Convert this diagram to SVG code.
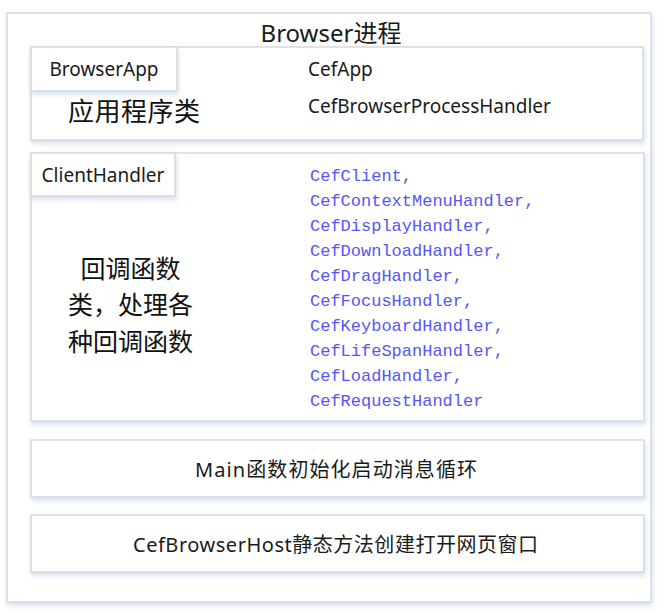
<svg xmlns="http://www.w3.org/2000/svg" width="663" height="612" viewBox="0 0 663 612">
  <defs>
    <filter id="sh" x="-5%" y="-5%" width="110%" height="120%">
      <feDropShadow dx="1" dy="3" stdDeviation="2.5" flood-color="#9fbbe0" flood-opacity="0.45"/>
    </filter>
    <style>
      .box { fill: #ffffff; stroke: #d9d9d9; stroke-width: 1.5; filter: url(#sh); }
      .t { font-family: "Noto Sans", "Noto Sans CJK SC", sans-serif; fill: #1a1a1a; }
      .cjk { font-family: "Noto Sans CJK SC", "Noto Sans", sans-serif; fill: #111111; }
      .code { font-family: "Liberation Mono", "DejaVu Sans Mono", monospace; font-size: 17px; fill: #5656f8; }
    </style>
  </defs>
  <rect width="663" height="612" fill="#ffffff"/>

  <g id="browser-process">
    <rect class="box" x="7" y="13" width="644" height="589"/>
    <text class="t" x="331" y="42" font-size="24" text-anchor="middle">Browser进程</text>
  </g>

  <g id="app-class">
    <rect class="box" x="31" y="47" width="612" height="93"/>
    <text class="cjk" x="68" y="121" font-size="26" textLength="132">应用程序类</text>
    <text class="t" x="308" y="76" font-size="19">CefApp</text>
    <text class="t" x="308" y="113" font-size="19">CefBrowserProcessHandler</text>
  </g>
  <g id="browser-app">
    <rect class="box" x="31" y="47" width="146" height="44"/>
    <text class="t" x="104" y="76" font-size="19" text-anchor="middle">BrowserApp</text>
  </g>

  <g id="callback-class">
    <rect class="box" x="31" y="153" width="613" height="268"/>
    <text class="cjk" font-size="25" text-anchor="middle"><tspan x="130.5" y="277.5">回调函数</tspan><tspan x="130.5" y="314">类，处理各</tspan><tspan x="130.5" y="350.5">种回调函数</tspan></text>
    <text class="code" x="310" y="181">CefClient,</text>
    <text class="code" x="310" y="206">CefContextMenuHandler,</text>
    <text class="code" x="310" y="231">CefDisplayHandler,</text>
    <text class="code" x="310" y="256">CefDownloadHandler,</text>
    <text class="code" x="310" y="281">CefDragHandler,</text>
    <text class="code" x="310" y="306">CefFocusHandler,</text>
    <text class="code" x="310" y="331">CefKeyboardHandler,</text>
    <text class="code" x="310" y="356">CefLifeSpanHandler,</text>
    <text class="code" x="310" y="381">CefLoadHandler,</text>
    <text class="code" x="310" y="406">CefRequestHandler</text>
  </g>
  <g id="client-handler">
    <rect class="box" x="31" y="153" width="144" height="43"/>
    <text class="t" x="103" y="182" font-size="19" text-anchor="middle">ClientHandler</text>
  </g>

  <g id="main-loop">
    <rect class="box" x="31" y="440" width="613" height="57"/>
    <text class="t" x="195" y="477" font-size="20" textLength="282">Main函数初始化启动消息循环</text>
  </g>

  <g id="browser-host">
    <rect class="box" x="31" y="515" width="613" height="57"/>
    <text class="t" x="133" y="552" font-size="20" textLength="405">CefBrowserHost静态方法创建打开网页窗口</text>
  </g>

  <g id="connectors"></g>
</svg>
